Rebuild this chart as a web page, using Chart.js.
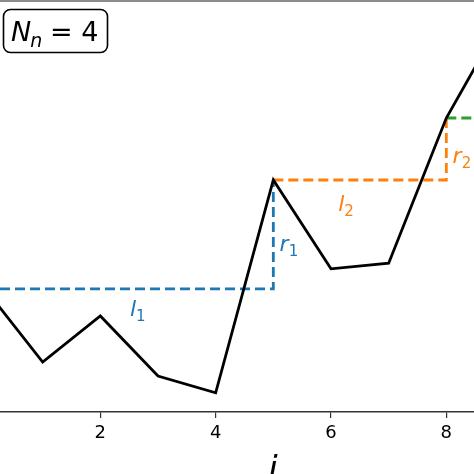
<!DOCTYPE html>
<html>
<head>
<meta charset="utf-8">
<script src="https://cdn.jsdelivr.net/npm/chart.js@4/dist/chart.umd.min.js"></script>
<style>
  html, body { margin: 0; padding: 0; background: #fff; }
  #wrap { width: 474px; height: 474px; }
</style>
</head>
<body>
<div id="wrap"><canvas id="seqChart" width="474" height="474"></canvas></div>
<script>
// sequence values
const steps = [0, 1, 2, 3, 4, 5, 6, 7, 8, 9];
const values = [3.08, 1.25, 2.4, 0.9, 0.48, 5.8, 3.58, 3.72, 7.35, 9.9];
const xTicks = [2, 4, 6, 8];

// record points: (start index, record index) pairs
const records = [[0, 5], [5, 8], [8, 9]];
const recordColors = ['#1f77b4', '#ff7f0e', '#2ca02c'];

const FONT = '"DejaVu Sans", sans-serif';

function stepLine(a, b, last) {
  const pts = [{x: steps[a], y: values[a]}, {x: steps[b], y: values[a]}];
  if (!last) pts.push({x: steps[b], y: values[b]});
  return pts;
}

const datasets = [{
  data: steps.map((s, k) => ({x: s, y: values[k]})),
  borderColor: '#000',
  borderWidth: 2.8,
  pointRadius: 0,
  tension: 0,
  order: 0
}];
records.forEach((r, k) => {
  datasets.push({
    data: stepLine(r[0], r[1], k === records.length - 1),
    borderColor: recordColors[k],
    borderWidth: 2.8,
    borderDash: [10, 5],
    pointRadius: 0,
    tension: 0,
    order: 1
  });
});

// draw italic symbol with a subscript
function symbol(ctx, x, y, main, sub, size, color, subItalic) {
  ctx.fillStyle = color;
  ctx.textBaseline = 'alphabetic';
  ctx.textAlign = 'left';
  ctx.font = 'italic ' + size + 'px ' + FONT;
  const w = ctx.measureText(main).width;
  const subSize = Math.round(size * 0.7);
  ctx.font = (subItalic ? 'italic ' : '') + subSize + 'px ' + FONT;
  const ws = ctx.measureText(sub).width;
  const x0 = x - (w + ws) / 2;
  ctx.font = 'italic ' + size + 'px ' + FONT;
  ctx.fillText(main, x0, y);
  ctx.font = (subItalic ? 'italic ' : '') + subSize + 'px ' + FONT;
  ctx.fillText(sub, x0 + w, y + size * 0.22);
}

const annotations = {
  id: 'annotations',
  afterDraw(chart) {
    const ctx = chart.ctx;
    const xs = chart.scales.x, ys = chart.scales.y;
    ctx.save();
    // top frame edge
    ctx.fillStyle = '#8c8c8c';
    ctx.fillRect(0, 0, 474, 2);

    const lab = [
      ['l', '1', 2.65, 2.6, recordColors[0]],
      ['r', '1', 5.27, 4.22, recordColors[0]],
      ['l', '2', 6.26, 5.22, recordColors[1]],
      ['r', '2', 8.27, 6.42, recordColors[1]]
    ];
    lab.forEach(l => {
      symbol(ctx, xs.getPixelForValue(l[2]), ys.getPixelForValue(l[3]) + 8, l[0], l[1], 22, l[4], false);
    });

    // axis title
    ctx.fillStyle = '#000';
    ctx.font = 'italic 34px ' + FONT;
    ctx.textAlign = 'center';
    ctx.textBaseline = 'alphabetic';
    ctx.fillText('i', 273, 480);

    // N_n = 4 box
    ctx.beginPath();
    ctx.roundRect(3.5, 9.5, 104, 43, 7);
    ctx.fillStyle = '#fff';
    ctx.fill();
    ctx.lineWidth = 1.6;
    ctx.strokeStyle = '#000';
    ctx.stroke();
    ctx.fillStyle = '#000';
    ctx.textAlign = 'left';
    ctx.font = 'italic 27px ' + FONT;
    ctx.fillText('N', 11, 41);
    const nw = ctx.measureText('N').width;
    ctx.font = 'italic 19px ' + FONT;
    ctx.fillText('n', 11 + nw - 1, 47);
    ctx.font = '27px ' + FONT;
    ctx.fillText('= 4', 50, 41);
    ctx.restore();
  }
};

new Chart(document.getElementById('seqChart'), {
  type: 'line',
  data: { datasets: datasets },
  options: {
    responsive: false,
    animation: false,
    layout: { padding: 0 },
    plugins: { legend: { display: false }, tooltip: { enabled: false } },
    scales: {
      x: {
        type: 'linear',
        min: 0.26,
        max: 8.48,
        afterBuildTicks: s => { s.ticks = xTicks.map(v => ({value: v})); },
        afterFit: s => { s.height = 62; },
        grid: { drawOnChartArea: false, tickLength: 6, color: '#333', lineWidth: 1.2 },
        border: { display: true, color: '#333', width: 1.6 },
        ticks: { color: '#000', font: { family: 'DejaVu Sans', size: 18 }, padding: 5 }
      },
      y: {
        display: false,
        min: 0,
        max: 10.3
      }
    }
  },
  plugins: [annotations]
});
</script>
</body>
</html>
